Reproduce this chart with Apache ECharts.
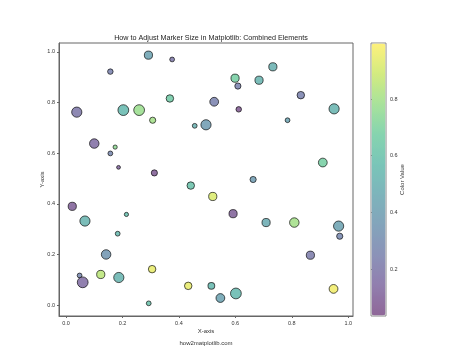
<!DOCTYPE html>
<html>
<head>
<meta charset="utf-8">
<script src="https://cdn.jsdelivr.net/npm/echarts@6/dist/echarts.min.js"></script>
<style>html,body{margin:0;padding:0;background:#fff}#c{width:474px;height:355px}</style>
</head>
<body>
<div id="c"></div>
<script>
// ---- data ----
const xs = [0.292,0.376,0.157,0.038,0.203,0.259,0.368,0.307,0.525,0.456,0.496,0.100,0.174,0.157,0.186,0.313,
            0.733,0.599,0.684,0.609,0.832,0.612,0.950,0.785,0.910,0.663,
            0.442,0.520,0.022,0.067,0.214,0.183,0.142,0.305,0.048,0.059,0.123,0.187,0.433,0.515,0.293,0.547,
            0.602,0.592,0.709,0.809,0.966,0.970,0.866,0.948];
const ys = [0.987,0.970,0.922,0.762,0.770,0.770,0.816,0.730,0.803,0.708,0.712,0.638,0.624,0.599,0.544,0.522,
            0.941,0.896,0.888,0.865,0.829,0.773,0.775,0.730,0.563,0.496,
            0.472,0.429,0.390,0.332,0.358,0.282,0.200,0.142,0.117,0.090,0.121,0.109,0.076,0.076,0.007,0.028,
            0.046,0.361,0.326,0.326,0.312,0.272,0.197,0.064];
const colorValues = [0.42,0.20,0.25,0.20,0.55,0.78,0.65,0.80,0.25,0.50,0.38,0.15,0.75,0.28,0.12,0.08,
            0.50,0.68,0.52,0.25,0.25,0.07,0.52,0.42,0.68,0.38,
            0.60,0.92,0.10,0.52,0.58,0.55,0.35,0.95,0.28,0.15,0.85,0.52,0.95,0.55,0.60,0.42,
            0.55,0.10,0.47,0.80,0.42,0.28,0.22,0.97];
const sizes = [8.7,5.3,6,10.7,11.3,11.3,8,6.7,9.3,5.3,10.7,10,4.7,5.3,4.3,6.7,
            8.7,8.7,8.7,6.7,8,6,10.7,5.3,9.3,6.7,
            8,8.7,8.7,10.7,4.7,5.3,10,8,5.3,11.3,8.7,10.7,8,7.3,5.3,9.3,
            11.3,8.7,8.7,10,10.7,6.7,8.7,9.3];
const xTicks = [0.0,0.2,0.4,0.6,0.8,1.0];
const yTicks = [0.0,0.2,0.4,0.6,0.8,1.0];
const cbTicks = [0.2,0.4,0.6,0.8];
const cbMin = 0.035, cbMax = 0.9975;

// viridis blended with white at alpha 0.6
const viridisA = ['#8f6798','#917eae','#8b92b8','#83a4bb','#7db4bb','#79c5b8','#86d4af','#a8e29b','#d3eb80','#fef17c'];

const data = xs.map((x,i)=>[x, ys[i], colorValues[i], sizes[i]]);
const FONT = 'Liberation Sans';
const fmt = v => v.toFixed(1);

const chart = echarts.init(document.getElementById('c'), null, {renderer:'canvas'});
chart.setOption({
  animation:false,
  backgroundColor:'#fff',
  textStyle:{fontFamily:FONT},
  title:{text:'How to Adjust Marker Size in Matplotlib: Combined Elements',
    left:206, top:30, textAlign:'center',
    textStyle:{fontSize:7.2,fontWeight:'normal',color:'#222',fontFamily:FONT}},
  grid:[
    {left:59,right:121,top:43,bottom:39,show:true,borderColor:'#666',borderWidth:1,backgroundColor:'transparent'},
    {left:371,top:43,width:15,height:273,show:true,borderColor:'#888',borderWidth:1,backgroundColor:'transparent'}
  ],
  xAxis:[
    {type:'value',gridIndex:0,min:-0.025,max:1.017,
     axisLine:{show:true,onZero:false,lineStyle:{color:'#666',width:1}},
     axisTick:{show:true,length:2,customValues:xTicks,lineStyle:{color:'#666'}},
     axisLabel:{customValues:xTicks,formatter:fmt,fontSize:5.5,color:'#333',margin:4,fontFamily:FONT},
     splitLine:{show:false},
     name:'X-axis',nameLocation:'middle',nameGap:12,nameMoveOverlap:false,nameTextStyle:{fontSize:6,color:'#333',fontFamily:FONT}},
    {type:'value',gridIndex:1,show:false,min:0,max:1}
  ],
  yAxis:[
    {type:'value',gridIndex:0,min:-0.043,max:1.035,
     axisLine:{show:true,onZero:false,lineStyle:{color:'#666',width:1}},
     axisTick:{show:true,length:2,customValues:yTicks,lineStyle:{color:'#666'}},
     axisLabel:{customValues:yTicks,formatter:fmt,fontSize:5.5,color:'#333',margin:4,fontFamily:FONT},
     splitLine:{show:false},
     name:'Y-axis',nameLocation:'middle',nameGap:14,nameRotate:90,nameMoveOverlap:false,nameTextStyle:{fontSize:6,color:'#333',fontFamily:FONT}},
    {type:'value',gridIndex:1,min:cbMin,max:cbMax,position:'right',
     axisLine:{show:false},
     axisTick:{show:true,length:2,customValues:cbTicks,lineStyle:{color:'#666'}},
     axisLabel:{customValues:cbTicks,formatter:fmt,fontSize:5.5,color:'#333',margin:4,fontFamily:FONT},
     splitLine:{show:false},
     name:'Color Value',nameLocation:'middle',nameGap:13,nameRotate:90,nameMoveOverlap:false,nameTextStyle:{fontSize:6,color:'#333',fontFamily:FONT}}
  ],
  visualMap:{
    type:'continuous',seriesIndex:0,dimension:2,min:cbMin,max:cbMax,
    calculable:false,realtime:false,hoverLink:false,
    left:371.5,top:43.5,itemWidth:14,itemHeight:272,padding:0,
    text:['',''],showLabel:false,
    inRange:{color:viridisA}
  },
  graphic:[{type:'text',style:{text:'how2matplotlib.com',x:206,y:343,fontSize:6,fill:'#333',fontFamily:FONT,textAlign:'center',textVerticalAlign:'middle'}}],
  series:[{
    type:'scatter',xAxisIndex:0,yAxisIndex:0,data:data,
    symbolSize:(v)=>v[3]-0.5,
    itemStyle:{borderColor:'rgba(0,0,0,0.65)',borderWidth:1,opacity:1}
  }]
});
</script>
</body>
</html>
